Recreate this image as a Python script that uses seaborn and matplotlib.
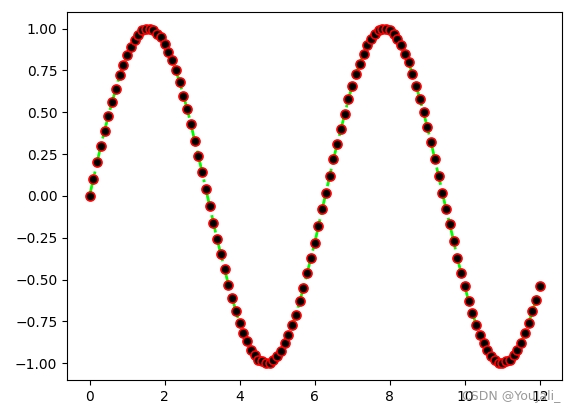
import numpy as np
import pandas as pd
import matplotlib
matplotlib.use("Agg")
import matplotlib.pyplot as plt
import seaborn as sns

# x runs 0 .. 12 in steps of 0.1
x = np.round(np.linspace(0, 12, 121), 1)
y = [0.00, 0.10, 0.20, 0.30, 0.39, 0.48, 0.56, 0.64, 0.72, 0.78,
     0.84, 0.89, 0.93, 0.96, 0.99, 1.00, 1.00, 0.99, 0.97, 0.95,
     0.91, 0.86, 0.81, 0.75, 0.68, 0.60, 0.52, 0.43, 0.33, 0.24,
     0.14, 0.04, -0.06, -0.16, -0.26, -0.35, -0.44, -0.53, -0.61, -0.69,
     -0.76, -0.82, -0.87, -0.92, -0.95, -0.98, -0.99, -1.00, -1.00, -0.98,
     -0.96, -0.93, -0.88, -0.83, -0.77, -0.71, -0.63, -0.55, -0.46, -0.37,
     -0.28, -0.18, -0.08, 0.02, 0.12, 0.22, 0.31, 0.40, 0.49, 0.58,
     0.66, 0.73, 0.79, 0.85, 0.90, 0.94, 0.97, 0.99, 1.00, 1.00,
     0.99, 0.97, 0.94, 0.90, 0.85, 0.80, 0.73, 0.66, 0.58, 0.50,
     0.41, 0.32, 0.22, 0.12, 0.02, -0.08, -0.17, -0.27, -0.37, -0.46,
     -0.54, -0.63, -0.70, -0.77, -0.83, -0.88, -0.92, -0.96, -0.98, -1.00,
     -1.00, -0.99, -0.98, -0.95, -0.92, -0.88, -0.82, -0.76, -0.69, -0.62,
     -0.54]

df = pd.DataFrame({"x": x, "y": y})

fig, ax = plt.subplots(figsize=(5.78, 4.12), dpi=100)
fig.subplots_adjust(left=0.116, right=0.973, top=0.971, bottom=0.078)

sns.lineplot(data=df, x="x", y="y", ax=ax, color="lime", linestyle="-.",
             linewidth=2, marker="o", markersize=6.5,
             markerfacecolor="black", markeredgecolor="red",
             markeredgewidth=1.2)
ax.set_xlabel("")
ax.set_ylabel("")
ax.set_yticks([-1.0, -0.75, -0.5, -0.25, 0.0, 0.25, 0.5, 0.75, 1.0])

# watermark (overlaps the last tick labels, as in the original)
fig.text(0.800, 0.037, "CSDN @YouJali_", color="#999999", fontsize=9,
         va="center")

plt.savefig("out.png")
